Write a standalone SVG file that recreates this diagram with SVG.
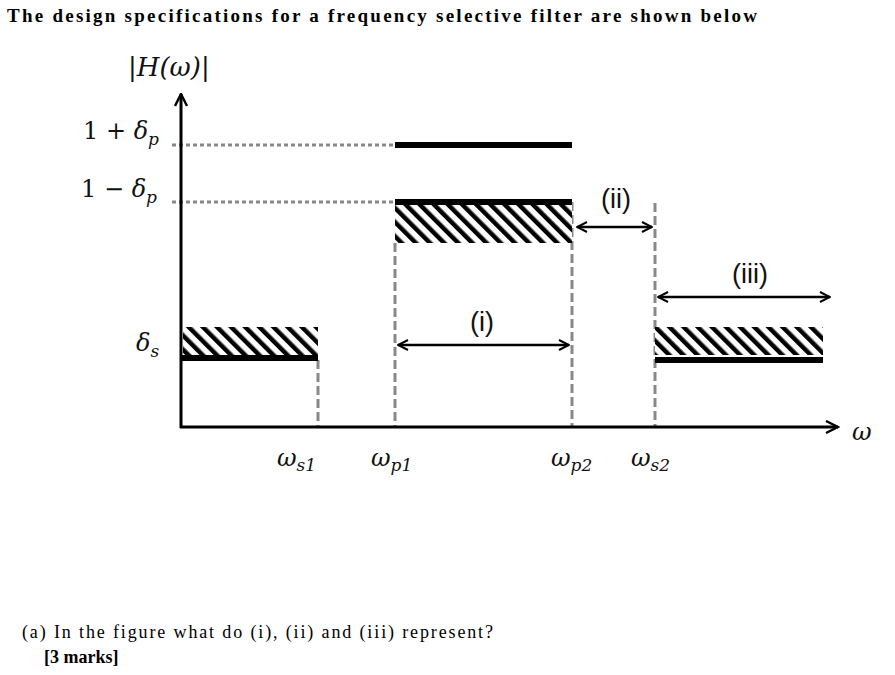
<svg xmlns="http://www.w3.org/2000/svg" width="895" height="675" viewBox="0 0 895 675">
<defs>
<style>
.serif{font-family:"Liberation Serif",serif;fill:#000}
.math{font-family:"DejaVu Serif","Liberation Serif",serif;font-style:italic;fill:#111}
.cal{font-family:"Liberation Sans",sans-serif;font-size:27px;fill:#111}
.dot{stroke:#888;stroke-width:3;stroke-dasharray:4 3;fill:none}
.dash{stroke:#888;stroke-width:3;stroke-dasharray:9 4;fill:none}
.bar{stroke:#000;stroke-width:6}
.ax{stroke:#000;stroke-width:3;fill:none}
.arr{stroke:#000;stroke-width:2.5;marker-start:url(#ah);marker-end:url(#ah)}
</style>
<pattern id="hatch" patternUnits="userSpaceOnUse" width="10" height="10" patternTransform="rotate(-45)">
<rect width="10" height="10" fill="#fff"/><rect x="0" y="0" width="4.5" height="10" fill="#000"/>
</pattern>
<marker id="ah" viewBox="0 0 10 10" refX="9" refY="5" markerWidth="5" markerHeight="5" orient="auto-start-reverse" markerUnits="strokeWidth"><path d="M1,1 L9,5 L1,9" fill="none" stroke="#000" stroke-width="1.6"/></marker>
<marker id="ax" viewBox="0 0 10 10" refX="9" refY="5" markerWidth="5" markerHeight="5" orient="auto" markerUnits="strokeWidth"><path d="M1,1 L9,5 L1,9" fill="none" stroke="#000" stroke-width="1.6"/></marker>
</defs>
<rect width="895" height="675" fill="#fff"/>
<text class="serif" x="7" y="22" font-size="19" font-weight="bold" textLength="750" lengthAdjust="spacing">The design specifications for a frequency selective filter are shown below</text>
<g id="guides">
<line class="dot" x1="172" y1="145" x2="395" y2="145"/>
<line class="dot" x1="172" y1="202" x2="395" y2="202"/>
<line class="dash" x1="318" y1="360" x2="318" y2="427"/>
<line class="dash" x1="395" y1="243" x2="395" y2="427"/>
<line class="dash" x1="572" y1="202" x2="572" y2="427"/>
<line class="dash" x1="655" y1="203" x2="655" y2="427"/>
</g>
<g id="bands">
<rect x="183" y="327" width="135" height="28" fill="url(#hatch)"/>
<line class="bar" x1="181" y1="358" x2="318" y2="358"/>
<line class="bar" x1="395" y1="145" x2="572" y2="145"/>
<rect x="395" y="205" width="177" height="38" fill="url(#hatch)"/>
<line class="bar" x1="395" y1="202" x2="572" y2="202"/>
<rect x="655" y="327" width="168" height="28" fill="url(#hatch)"/>
<line class="bar" x1="655" y1="360" x2="823" y2="360"/>
</g>
<g id="axes">
<line class="ax" x1="181" y1="428" x2="181" y2="94" marker-end="url(#ax)"/>
<line class="ax" x1="180" y1="427" x2="838" y2="427" marker-end="url(#ax)"/>
</g>
<g id="connectors">
<line class="arr" x1="398" y1="345" x2="569" y2="345"/>
<line class="arr" x1="577" y1="227" x2="652" y2="227"/>
<line class="arr" x1="658" y1="297" x2="830" y2="297"/>
</g>
<g id="labels">
<text class="math" x="128" y="76" font-size="26">|H(ω)|</text>
<text class="math" x="83" y="139" font-size="24"><tspan font-style="normal">1 + </tspan>δ<tspan font-size="17" dy="6">p</tspan></text>
<text class="math" x="81" y="197" font-size="24"><tspan font-style="normal">1 − </tspan>δ<tspan font-size="17" dy="6">p</tspan></text>
<text class="math" x="136" y="351" font-size="24">δ<tspan font-size="17" dy="6">s</tspan></text>
<text class="math" x="852" y="440" font-size="24">ω</text>
<text class="math" x="277" y="466" font-size="24">ω<tspan font-size="17" dy="5">s1</tspan></text>
<text class="math" x="371" y="466" font-size="24">ω<tspan font-size="17" dy="5">p1</tspan></text>
<text class="math" x="551" y="466" font-size="24">ω<tspan font-size="17" dy="5">p2</tspan></text>
<text class="math" x="631" y="466" font-size="24">ω<tspan font-size="17" dy="5">s2</tspan></text>
<text class="cal" x="470" y="331">(i)</text>
<text class="cal" x="601" y="208">(ii)</text>
<text class="cal" x="732" y="283">(iii)</text>
</g>
<text class="serif" x="22" y="638" font-size="18" textLength="471" lengthAdjust="spacing">(a) In the figure what do (i), (ii) and (iii) represent?</text>
<text class="serif" x="44" y="663" font-size="18" font-weight="bold">[3 marks]</text>
</svg>
